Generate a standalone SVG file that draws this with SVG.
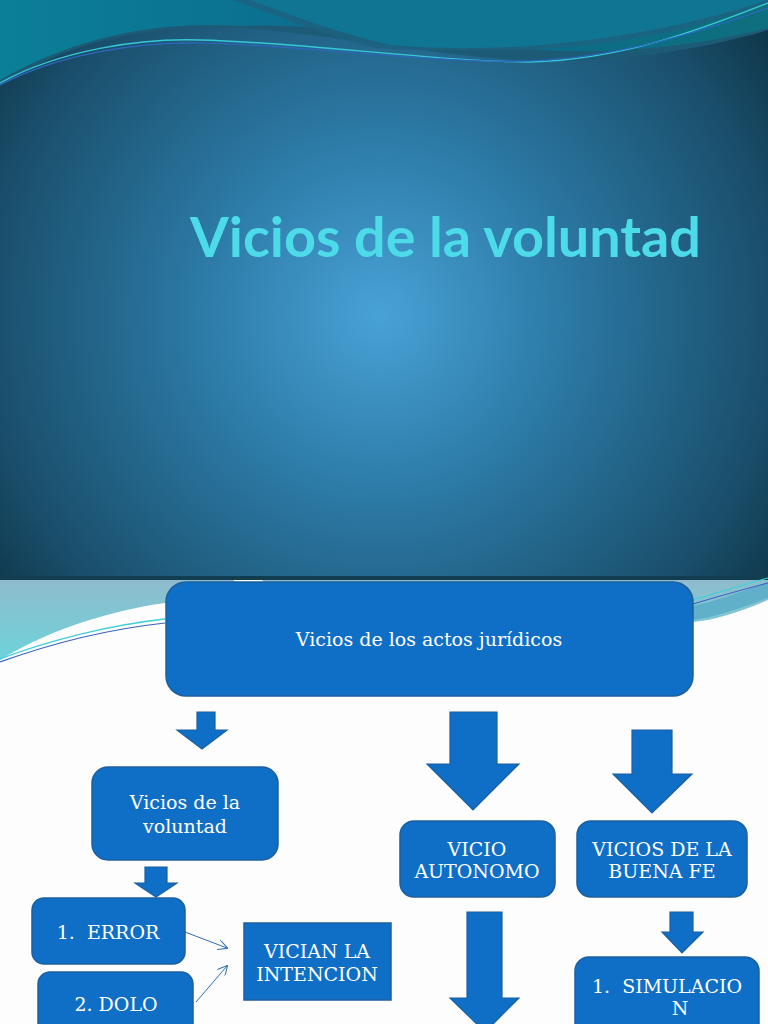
<svg xmlns="http://www.w3.org/2000/svg" width="768" height="1024" viewBox="0 0 768 1024">
  <defs>
    <radialGradient id="bg1" cx="380" cy="315" r="520" gradientUnits="userSpaceOnUse">
      <stop offset="0" stop-color="#48a2d6"/>
      <stop offset="0.35" stop-color="#2c7aa6"/>
      <stop offset="0.75" stop-color="#1a4f6c"/>
      <stop offset="1" stop-color="#0a2b3a"/>
    </radialGradient>
    <linearGradient id="topTeal" x1="0" y1="0" x2="1" y2="0">
      <stop offset="0" stop-color="#0b7f98"/>
      <stop offset="0.5" stop-color="#0c6a8e"/>
      <stop offset="1" stop-color="#0e6f7e"/>
    </linearGradient>
    <linearGradient id="lightTop" x1="0" y1="0" x2="0" y2="1">
      <stop offset="0" stop-color="#8fbccd"/>
      <stop offset="1" stop-color="#6dd3da"/>
    </linearGradient>
    <style>
      .node { fill: #0f6fc6; stroke: #1c5f9e; stroke-width: 1.5; }
      .blk { fill: #0f6fc6; stroke: #1c5f9e; stroke-width: 1.2; stroke-linejoin: miter; }
      .t { font-family: "DejaVu Serif", serif; font-size: 19px; fill: #ffffff; text-anchor: middle; }
      .thin { fill: none; stroke: #2f6fb6; stroke-width: 1; }
    </style>
    <marker id="ah" viewBox="0 0 10 10" refX="9" refY="5" markerWidth="10" markerHeight="10" markerUnits="userSpaceOnUse" orient="auto">
      <path d="M0,0 L10,5 L0,10" fill="none" stroke="#2f6fb6" stroke-width="1"/>
    </marker>
  </defs>

  <!-- top slide -->
  <rect x="0" y="0" width="768" height="576" fill="url(#bg1)"/>
  <path d="M0,0 H768 V30 C700,50 620,62 540,61 C440,58 340,34 240,28 C150,24 70,40 0,86 Z" fill="#1c5a75"/>
  <path d="M0,0 H768 V28 C700,45 620,55 540,50 C440,44 340,22 240,26 C150,20 70,40 0,80 Z" fill="url(#topTeal)"/>
  <path d="M233,0 C290,20 330,38 375,48 C430,52 480,50 520,50 C600,46 680,36 768,2 V0 Z" fill="#1d6180" opacity="0.85"/>
  <path d="M250,0 C300,18 345,35 390,45 C450,50 490,48 530,46 C610,40 690,26 768,0 Z" fill="#107592"/>
  <path d="M0,83 C60,50 140,38 200,40 C300,42 440,62 530,62 C620,60 700,30 768,3" fill="none" stroke="#35c8d6" stroke-width="1.4"/>
  <path d="M0,85 C60,53 140,42 200,43 C300,45 440,64 530,61 C620,57 700,32 768,8" fill="none" stroke="#2e67c2" stroke-width="1.2"/>

  <text x="190" y="257" font-family="Lato, 'Open Sans', sans-serif" font-size="56" font-weight="bold" fill="#4ddbe9" textLength="511" lengthAdjust="spacingAndGlyphs">Vicios de la voluntad</text>

  <!-- bottom slide -->
  <rect x="0" y="576" width="768" height="448" fill="#fdfdfd"/>
  <rect x="0" y="576" width="768" height="4" fill="#123c50"/>
  <path d="M0,580 H768 V600 C740,612 715,620 693,622 L165,603 C100,612 40,635 0,660 Z" fill="url(#lightTop)"/>
  <path d="M233,580 L262,580 L268,586 L245,586 Z" fill="#ffffff"/>
  <path d="M693,606 C720,600 745,590 768,582 V598 C745,606 720,616 693,620 Z" fill="#5fb0c8"/>
  <path d="M0,659 C50,640 110,625 165,619" fill="none" stroke="#3fcfd8" stroke-width="1.3"/>
  <path d="M0,662 C50,644 110,629 165,623" fill="none" stroke="#3a62c4" stroke-width="1.2"/>
  <path d="M693,600 C720,592 745,584 768,578" fill="none" stroke="#3fcfd8" stroke-width="1.2"/>
  <path d="M693,604 C720,596 745,589 768,583" fill="none" stroke="#3a62c4" stroke-width="1.1"/>

  <!-- connectors -->
  <g id="connectors">
    <polygon class="blk" points="197,712 215,712 215,730 227,730 202,749 177,730 197,730"/>
    <polygon class="blk" points="450,712 497,712 497,764 519,764 473,810 427,764 450,764"/>
    <polygon class="blk" points="632,730 672,730 672,774 692,774 652,813 613,774 632,774"/>
    <polygon class="blk" points="145,867 167,867 167,883 177,883 156,897 135,883 145,883"/>
    <polygon class="blk" points="467,912 502,912 502,998 519,998 485,1032 450,998 467,998"/>
    <polygon class="blk" points="670,912 693,912 693,932 703,932 682,953 662,932 670,932"/>
    <line class="thin" x1="185" y1="932" x2="227" y2="948" marker-end="url(#ah)"/>
    <line class="thin" x1="196" y1="1002" x2="227" y2="966" marker-end="url(#ah)"/>
  </g>

  <g id="n-actos">
    <rect class="node" x="166" y="582" width="527" height="114" rx="20"/>
    <text class="t" x="429" y="646">Vicios de los actos jurídicos</text>
  </g>
  <g id="n-voluntad">
    <rect class="node" x="92" y="767" width="186" height="93" rx="16"/>
    <text class="t" x="185" y="809">Vicios de la</text>
    <text class="t" x="185" y="833">voluntad</text>
  </g>
  <g id="n-autonomo">
    <rect class="node" x="400" y="821" width="155" height="76" rx="14"/>
    <text class="t" x="477" y="856">VICIO</text>
    <text class="t" x="477" y="878">AUTONOMO</text>
  </g>
  <g id="n-buenafe">
    <rect class="node" x="577" y="821" width="170" height="76" rx="14"/>
    <text class="t" x="662" y="856">VICIOS DE LA</text>
    <text class="t" x="662" y="878">BUENA FE</text>
  </g>
  <g id="n-error">
    <rect class="node" x="32" y="898" width="153" height="66" rx="12"/>
    <text class="t" x="108" y="939" xml:space="preserve">1.  ERROR</text>
  </g>
  <g id="n-dolo">
    <rect class="node" x="38" y="972" width="155" height="70" rx="12"/>
    <text class="t" x="116" y="1011">2. DOLO</text>
  </g>
  <g id="n-intencion">
    <rect class="node" x="244" y="923" width="147" height="77"/>
    <text class="t" x="317" y="958">VICIAN LA</text>
    <text class="t" x="317" y="981">INTENCION</text>
  </g>
  <g id="n-simulacion">
    <rect class="node" x="575" y="957" width="184" height="80" rx="14"/>
    <text class="t" x="667" y="993" xml:space="preserve">1.  SIMULACIO</text>
    <text class="t" x="680" y="1015">N</text>
  </g>
</svg>
